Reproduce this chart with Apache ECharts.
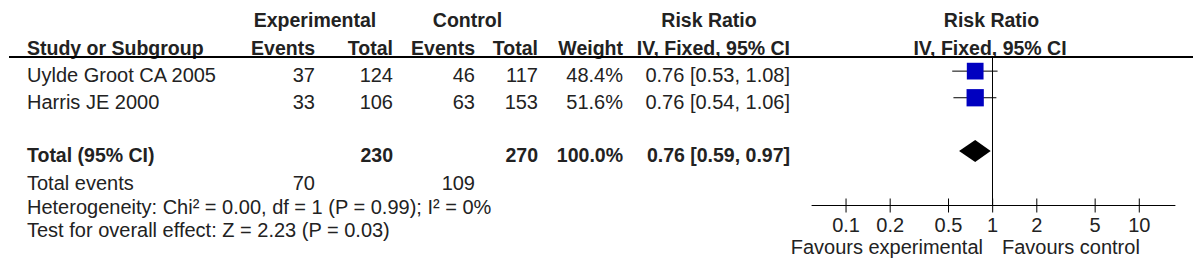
<!DOCTYPE html>
<html><head><meta charset="utf-8">
<script src="https://cdn.jsdelivr.net/npm/echarts@6/dist/echarts.min.js"></script>
<style>html,body{margin:0;padding:0;background:#fff}#c{width:1200px;height:279px}</style>
</head><body><div id="c"></div>
<script>
// ---- data ----
const studies = ['Uylde Groot CA 2005', 'Harris JE 2000'];
const expEvents = [37, 33];
const expTotal = [124, 106];
const ctrlEvents = [46, 63];
const ctrlTotal = [117, 153];
const weights = [48.4, 51.6];
const rr = [0.76, 0.76];
const rrLo = [0.53, 0.54];
const rrHi = [1.08, 1.06];
const pooled = [0.76, 0.59, 0.97]; // estimate, lower, upper
const xTicks = [0.1, 0.2, 0.5, 1, 2, 5, 10];
const heterogeneity = 'Heterogeneity: Chi\u00B2 = 0.00, df = 1 (P = 0.99); I\u00B2 = 0%';
const overallTest = 'Test for overall effect: Z = 2.23 (P = 0.03)';

const sum = a => a.reduce((s, v) => s + v, 0);
const FAM = '"Liberation Sans", Arial, sans-serif';
const TXT = '#222';
const font = (b, s) => (b ? 'bold ' : '') + s + 'px ' + FAM;

function T(text, x, y, align, bold) {
  return { type: 'text', x: x, y: y, silent: true,
    style: { text: String(text), align: align, verticalAlign: 'middle', font: font(bold, bold ? 19.5 : 20), fill: TXT } };
}
const ciTxt = (e, l, h) => e.toFixed(2) + ' [' + l.toFixed(2) + ', ' + h.toFixed(2) + ']';

// column anchors (layout)
const C = { name: 27, ee: 315, et: 393, ce: 475, ct: 538, w: 623, ci: 790 };
const g = [];
// headers
g.push(T('Experimental', 315, 20, 'center', true));
g.push(T('Control', 467.5, 20, 'center', true));
g.push(T('Risk Ratio', 709, 20, 'center', true));
g.push(T('Risk Ratio', 991.5, 20, 'center', true));
g.push(T('Study or Subgroup', C.name, 47.5, 'left', true));
g.push(T('Events', C.ee, 47.5, 'right', true));
g.push(T('Total', C.et, 47.5, 'right', true));
g.push(T('Events', C.ce, 47.5, 'right', true));
g.push(T('Total', C.ct, 47.5, 'right', true));
g.push(T('Weight', C.w, 47.5, 'right', true));
g.push(T('IV, Fixed, 95% CI', C.ci, 47.5, 'right', true));
g.push(T('IV, Fixed, 95% CI', 990, 47.5, 'center', true));
g.push({ type: 'line', silent: true, shape: { x1: 9, y1: 57, x2: 1193, y2: 57 }, style: { stroke: '#000', lineWidth: 2 } });
// study rows
studies.forEach((s, i) => {
  const y = 75 + i * 26.5;
  g.push(T(s, C.name, y, 'left', false));
  g.push(T(expEvents[i], C.ee, y, 'right', false));
  g.push(T(expTotal[i], C.et, y, 'right', false));
  g.push(T(ctrlEvents[i], C.ce, y, 'right', false));
  g.push(T(ctrlTotal[i], C.ct, y, 'right', false));
  g.push(T(weights[i].toFixed(1) + '%', C.w, y, 'right', false));
  g.push(T(ciTxt(rr[i], rrLo[i], rrHi[i]), C.ci, y, 'right', false));
});
// totals
g.push(T('Total (95% CI)', C.name, 155, 'left', true));
g.push(T(sum(expTotal), C.et, 155, 'right', true));
g.push(T(sum(ctrlTotal), C.ct, 155, 'right', true));
g.push(T(sum(weights).toFixed(1) + '%', C.w, 155, 'right', true));
g.push(T(ciTxt(pooled[0], pooled[1], pooled[2]), C.ci, 155, 'right', true));
g.push(T('Total events', C.name, 183, 'left', false));
g.push(T(sum(expEvents), C.ee, 183, 'right', false));
g.push(T(sum(ctrlEvents), C.ce, 183, 'right', false));
g.push(T(heterogeneity, C.name, 207, 'left', false));
g.push(T(overallTest, C.name, 230, 'left', false));
g.push(T('Favours experimental', 983, 247, 'right', false));
g.push(T('Favours control', 1002, 247, 'left', false));

const X_MIN = 0.0586, X_MAX = 17.52;
const Y_MIN = -0.55, Y_MAX = 5.05;
const totalRow = studies.length + 1;

const chart = echarts.init(document.getElementById('c'), null, { renderer: 'svg' });
chart.setOption({
  animation: false,
  backgroundColor: '#fff',
  grid: { left: 812, top: 56.5, width: 363, height: 149 },
  xAxis: {
    type: 'log', min: X_MIN, max: X_MAX, position: 'bottom',
    axisLine: { show: true, onZero: false, lineStyle: { color: '#000', width: 1 } },
    axisTick: { show: false }, axisLabel: { show: false }, splitLine: { show: false }
  },
  yAxis: { type: 'value', inverse: true, min: Y_MIN, max: Y_MAX, show: false },
  graphic: g,
  series: [
    {
      type: 'custom', name: 'ci',
      data: studies.map((s, i) => [rrLo[i], rrHi[i], i]),
      encode: { x: [0, 1], y: 2 },
      renderItem: (p, api) => {
        const a = api.coord([api.value(0), api.value(2)]);
        const b = api.coord([api.value(1), api.value(2)]);
        return { type: 'line', shape: { x1: a[0], y1: a[1], x2: b[0], y2: b[1] }, style: { stroke: '#000', lineWidth: 1 } };
      },
      markLine: {
        silent: true, symbol: 'none', label: { show: false },
        lineStyle: { color: '#000', width: 1, type: 'solid' },
        data: [{ xAxis: 1 }]
      }
    },
    {
      type: 'scatter', name: 'studies',
      data: studies.map((s, i) => [rr[i], i, weights[i]]),
      symbol: 'rect',
      symbolSize: d => 17 * Math.sqrt(d[2] / 50),
      itemStyle: { color: '#0000c0', opacity: 1 }
    },
    {
      type: 'custom', name: 'pooled',
      data: [[pooled[0], pooled[1], pooled[2], totalRow]],
      encode: { x: [0, 1, 2], y: 3 },
      renderItem: (p, api) => {
        const c = api.coord([api.value(0), api.value(3)]);
        const l = api.coord([api.value(1), api.value(3)]);
        const r = api.coord([api.value(2), api.value(3)]);
        const h = 11;
        return { type: 'polygon', shape: { points: [[l[0], c[1]], [c[0], c[1] - h], [r[0], c[1]], [c[0], c[1] + h]] }, style: { fill: '#000' } };
      }
    },
    {
      type: 'custom', name: 'ticks',
      data: xTicks.map(v => [v, Y_MAX]),
      encode: { x: 0, y: 1 },
      renderItem: (p, api) => {
        const v = api.value(0);
        const c = api.coord([v, api.value(1)]);
        return { type: 'group', children: [
          { type: 'line', shape: { x1: c[0], y1: c[1] - 7, x2: c[0], y2: c[1] + 7 }, style: { stroke: '#000', lineWidth: 1 } },
          { type: 'text', x: c[0], y: c[1] + 19.5, style: { text: String(v), align: 'center', verticalAlign: 'middle', font: font(false, 20), fill: TXT } }
        ] };
      }
    }
  ]
});
</script>
</body></html>
